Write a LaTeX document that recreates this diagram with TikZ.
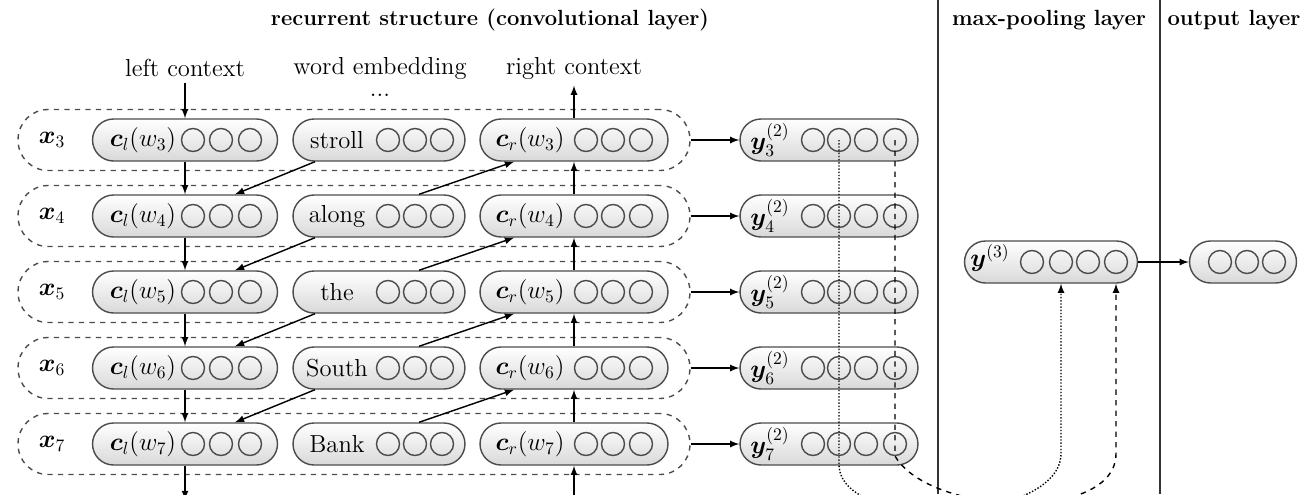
\documentclass[tikz,border=0pt]{standalone}
\usepackage{amssymb,amsmath,bm}
\usepackage{tikz}
\usetikzlibrary{positioning,shapes.misc,calc,arrows}

\tikzset{
  vec/.style={rounded rectangle, draw=black!70, top color=white, bottom color=black!15,
    minimum height=0.84cm, inner sep=0pt},
  unit/.style={circle, draw=black!70, minimum size=0.46cm, inner sep=0pt},
  row/.style={draw=black!70, dashed, rounded corners=0.6cm, minimum height=1.22cm,
    minimum width=13.44cm, inner sep=0pt},
  lbl/.style={font=\fontsize{14}{16}\selectfont},
  head/.style={font=\fontsize{12.5}{14}\selectfont\bfseries}
}

\begin{document}
\begin{tikzpicture}[x=0.02cm,y=-0.02cm,>=latex,->,thick]
  \useasboundingbox (0,0) rectangle (1302,494);
  \clip (0,0) rectangle (1302,494);
  % headings and layer borders
  \node[head] (hrec) at (490,20) {recurrent structure (convolutional layer)};
  \node[head] (hmax) at (1049,20) {max-pooling layer};
  \node[head] (hout) at (1234,20) {output layer};
  \draw[-,black!80] (938,0) -- (938,494);
  \draw[-,black!80] (1160,0) -- (1160,494);
  \node[lbl] (lctx) at (185,68) {left context};
  \node[lbl,inner sep=1pt] (wemb) at (380,68) {word embedding};
  \node[lbl,inner sep=0pt] (dots) at (380,95) {...};
  \node[lbl] (rctx) at (574,68) {right context};
  \foreach \i/\w in {3/stroll,4/along,5/the,6/South,7/Bank}{
    \pgfmathsetmacro{\yy}{140+76*(\i-3)}
    \node[row] (r\i) at (354,\yy) {};
    \node[lbl] (x\i) at (52,\yy) {$\bm{x}_\i$};
    \node[vec, minimum width=3.7cm] (cl\i) at (185,\yy) {};
    \node[lbl] (cll\i) at (143,\yy) {$\bm{c}_l(w_\i)$};
    \node[vec, minimum width=3.44cm] (w\i) at (379,\yy) {};
    \node[lbl] (wl\i) at (337,\yy) {\w};
    \node[vec, minimum width=3.76cm] (cr\i) at (574,\yy) {};
    \node[lbl] (crl\i) at (530,\yy) {$\bm{c}_r(w_\i)$};
    \foreach \cx in {193,221,250,388,415,442,586,613,641}
      \node[unit] at (\cx,\yy) {};
    \node[vec, minimum width=3.56cm] (y\i) at (829,\yy) {};
    \node[lbl] (yl\i) at (770,\yy) {$\bm{y}_\i^{(2)}$};
    \foreach \k/\cx in {1/813,2/839,3/866,4/895}
      \node[unit] (y\i c\k) at (\cx,\yy) {};
    \draw (r\i.east) -- (y\i.west);
  }
  % recurrent connections
  \draw (lctx) -- (cl3.north);
  \draw (cr3.north) -- (rctx);
  \foreach \i/\j in {3/4,4/5,5/6,6/7}{
    \draw (cl\i.south) -- (cl\j.north);
    \draw (cr\j.north) -- (cr\i.south);
    \draw ($(w\i.south)+(-64,0)$) -- ($(cl\j.north)+(50,0)$);
    \draw ($(w\j.north)+(40,0)$) -- ($(cr\i.south)+(-60,0)$);
  }
  \coordinate (lend) at (185,500);
  \coordinate (rend) at (574,500);
  \draw (cl7.south) -- (lend);
  \draw (rend) -- (cr7.south);
  % max-pooling and output
  \node[vec, minimum width=3.46cm] (y3p) at (1051,262) {};
  \node[lbl] (y3l) at (990,258) {$\bm{y}^{(3)}$};
  \foreach \k/\cx in {1/1032,2/1061,3/1088,4/1116}
    \node[unit] (p\k) at (\cx,262) {};
  \node[vec, minimum width=2.14cm] (out) at (1243,262) {};
  \foreach \cx in {1220,1247,1274}
    \node[unit] at (\cx,262) {};
  \draw (y3p.east) -- (out.west);
  \draw[densely dotted] (y3c2.center) -- (y7c2.center) -- ++(0,20)
    to[out=-90,in=-90,looseness=0.8] ($(p2|-y3p.south)+(0,170)$) -- (p2|-y3p.south);
  \draw[dashed] (y3c4.center) -- (y7c4.center) -- ++(0,12)
    to[out=-60,in=-90,looseness=0.8] ($(p4|-y3p.south)+(0,170)$) -- (p4|-y3p.south);
\end{tikzpicture}
\end{document}
